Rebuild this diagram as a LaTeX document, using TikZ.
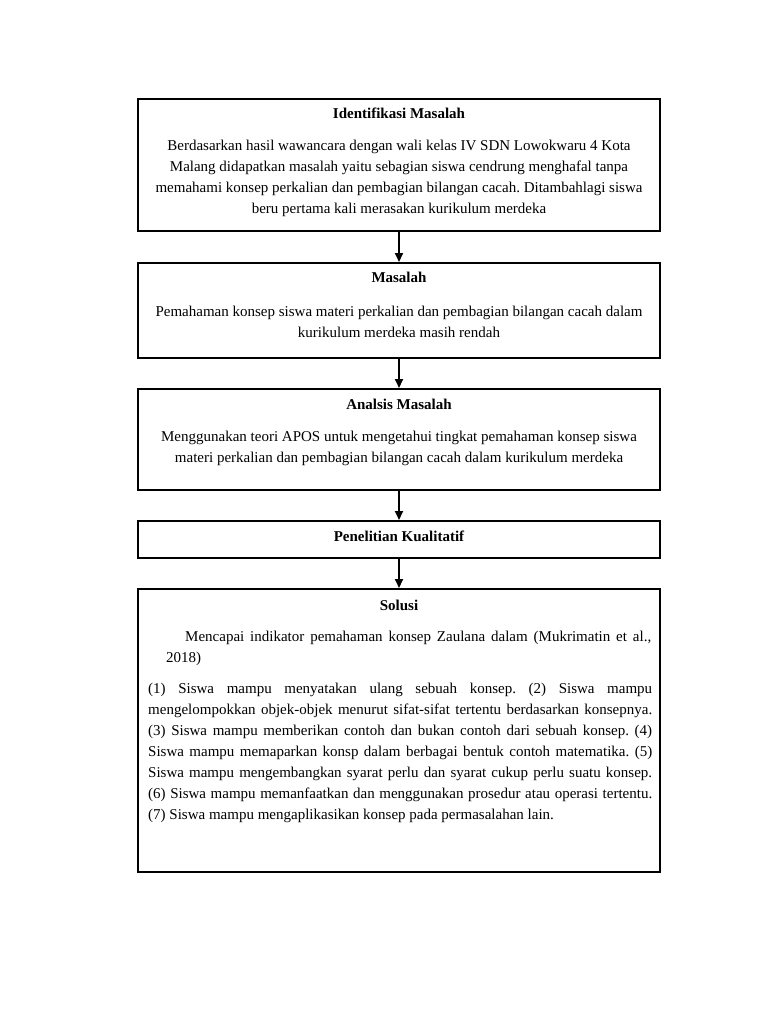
\documentclass[tikz,border=0pt]{standalone}
\usepackage{fontspec}
\setmainfont{Liberation Serif}
\usetikzlibrary{arrows.meta}
\frenchspacing
\newcommand\jline[2]{\hbox to #1{#2}}
\begin{document}
\begin{tikzpicture}[x=1pt,y=-1pt,
  box/.style={draw=black,line width=2pt,rectangle,inner sep=0pt},
  ttl/.style={font=\fontsize{15}{21}\selectfont\bfseries,inner sep=0pt},
  txt/.style={font=\fontsize{15}{21}\selectfont,inner sep=0pt,align=center},
  ltxt/.style={font=\fontsize{15}{21}\selectfont,inner sep=0pt,align=left},
  arr/.style={line width=2pt,-{Triangle[width=8pt,length=9pt]}}]
\useasboundingbox (0,0) rectangle (768,1024);
\fill[white] (0,0) rectangle (768,1024);
% boxes
\node[box,minimum width=522pt,minimum height=132pt] (b1) at (399,165) {};
\node[box,minimum width=522pt,minimum height=95pt] (b2) at (399,310.5) {};
\node[box,minimum width=522pt,minimum height=101pt] (b3) at (399,439.5) {};
\node[box,minimum width=522pt,minimum height=37pt] (b4) at (399,539.5) {};
\node[box,minimum width=522pt,minimum height=283pt] (b5) at (399,730.5) {};
% arrows
\draw[arr] (b1.south) -- (b2.north);
\draw[arr] (b2.south) -- (b3.north);
\draw[arr] (b3.south) -- (b4.north);
\draw[arr] (b4.south) -- (b5.north);
% texts
\node[ttl] (t1) at (399,113) {Identifikasi Masalah};
\node[txt] (p1) at (399,178) {Berdasarkan hasil wawancara dengan wali kelas IV SDN Lowokwaru 4 Kota\\
Malang didapatkan masalah yaitu sebagian siswa cendrung menghafal tanpa\\
memahami konsep perkalian dan pembagian bilangan cacah. Ditambahlagi siswa\\
beru pertama kali merasakan kurikulum merdeka};
\node[ttl] (t2) at (399,277) {Masalah};
\node[txt] (p2) at (399,321.5) {Pemahaman konsep siswa materi perkalian dan pembagian bilangan cacah dalam\\
kurikulum merdeka masih rendah};
\node[ttl] (t3) at (399,404) {Analsis Masalah};
\node[txt] (p3) at (399,448) {Menggunakan teori APOS untuk mengetahui tingkat pemahaman konsep siswa\\
materi perkalian dan pembagian bilangan cacah dalam kurikulum merdeka};
\node[ttl] (t4) at (399,536) {Penelitian Kualitatif};
\node[ttl] (t5) at (399,605) {Solusi};
\node[ltxt,anchor=west] (p5) at (166,648) {\jline{485pt}{\hspace*{19pt}Mencapai indikator pemahaman konsep Zaulana dalam (Mukrimatin et al.,}\\
2018)};
\node[ltxt,anchor=west] (p6) at (148,753) {\jline{504pt}{(1) Siswa mampu menyatakan ulang sebuah konsep. (2) Siswa mampu}\\
\jline{504pt}{mengelompokkan objek-objek menurut sifat-sifat tertentu berdasarkan konsepnya.}\\
\jline{504pt}{(3) Siswa mampu memberikan contoh dan bukan contoh dari sebuah konsep. (4)}\\
\jline{504pt}{Siswa mampu memaparkan konsp dalam berbagai bentuk contoh matematika. (5)}\\
\jline{504pt}{Siswa mampu mengembangkan syarat perlu dan syarat cukup perlu suatu konsep.}\\
\jline{504pt}{(6) Siswa mampu memanfaatkan dan menggunakan prosedur atau operasi tertentu.}\\
(7) Siswa mampu mengaplikasikan konsep pada permasalahan lain.};
\end{tikzpicture}
\end{document}
